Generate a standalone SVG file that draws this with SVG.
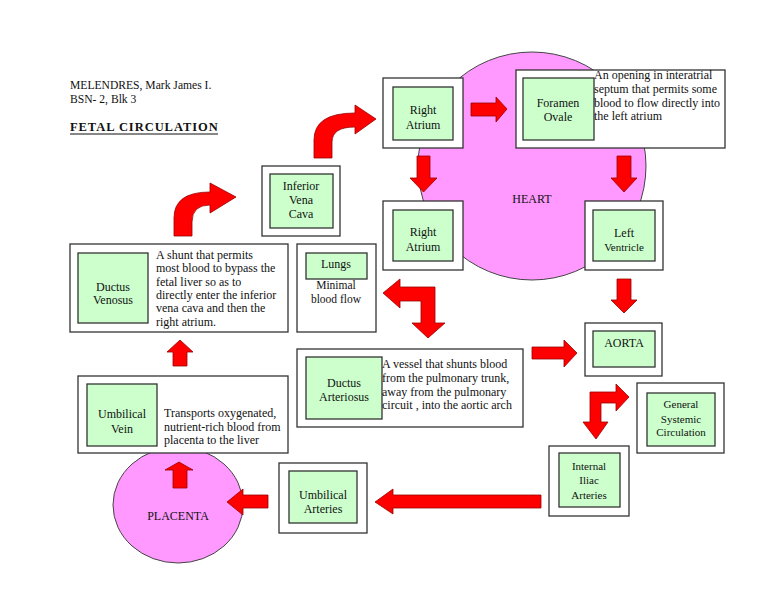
<svg xmlns="http://www.w3.org/2000/svg" width="768" height="594" viewBox="0 0 768 594">
<style>
text{font-family:"Liberation Serif","Times New Roman",serif;font-size:12px;fill:#111}
.c{text-anchor:middle}
.sm{font-size:11px}
.outer{fill:#fff;stroke:#333;stroke-width:1.3}
.inner{fill:#ccffcc;stroke:#333;stroke-width:1.3}
.organ{fill:#ff99ff;stroke:#444;stroke-width:1}
.arr{fill:#ff0000;stroke:#990000;stroke-width:0.8;stroke-linejoin:miter}
</style>
<rect width="768" height="594" fill="#fff"/>
<g id="header">
<text x="70" y="89" style="font-size:11.6px">MELENDRES, Mark James I.</text>
<text x="70" y="103" style="font-size:11.6px">BSN- 2, Blk 3</text>
<text x="70" y="131" style="font-weight:bold;font-size:12.5px;letter-spacing:0.95px">FETAL CIRCULATION</text>
<line x1="70" y1="134" x2="218" y2="134" stroke="#111" stroke-width="1.2"/>
</g>
<g id="heart">
<ellipse class="organ" cx="532" cy="166" rx="114" ry="114"/>
<text class="c" x="532" y="203">HEART</text>
</g>
<g id="placenta">
<ellipse class="organ" cx="178" cy="505" rx="65" ry="58"/>
<text class="c" x="178" y="520">PLACENTA</text>
</g>
<g id="right-atrium-1">
<rect class="outer" x="383" y="78" width="80" height="70"/>
<rect class="inner" x="393" y="87" width="60" height="53"/>
<text class="c" x="423" y="114">Right</text>
<text class="c" x="423" y="129">Atrium</text>
</g>
<g id="foramen-ovale">
<rect class="outer" x="516" y="70" width="209" height="78"/>
<rect class="inner" x="523" y="78" width="71" height="62"/>
<text class="c" x="558" y="107">Foramen</text>
<text class="c" x="558" y="121">Ovale</text>
<text x="594" y="79">An opening in interatrial</text>
<text x="594" y="93">septum that permits some</text>
<text x="594" y="107">blood to flow directly into</text>
<text x="594" y="120">the left atrium</text>
</g>
<g id="right-atrium-2">
<rect class="outer" x="383" y="201" width="80" height="69"/>
<rect class="inner" x="393" y="210" width="60" height="51"/>
<text class="c" x="423" y="236">Right</text>
<text class="c" x="423" y="251">Atrium</text>
</g>
<g id="left-ventricle">
<rect class="outer" x="585" y="201" width="78" height="69"/>
<rect class="inner" x="593" y="210" width="62" height="51"/>
<text class="c" x="624" y="237">Left</text>
<text class="c sm" x="624" y="251">Ventricle</text>
</g>
<g id="inferior-vena-cava">
<rect class="outer" x="262" y="166" width="78" height="70"/>
<rect class="inner" x="270" y="174" width="63" height="54"/>
<text class="c" x="301" y="190">Inferior</text>
<text class="c" x="301" y="204">Vena</text>
<text class="c" x="301" y="218">Cava</text>
</g>
<g id="ductus-venosus">
<rect class="outer" x="70" y="244" width="218" height="88"/>
<rect class="inner" x="78" y="253" width="70" height="70"/>
<text class="c" x="113" y="291">Ductus</text>
<text class="c" x="113" y="304">Venosus</text>
<text x="156" y="259">A shunt that permits</text>
<text x="156" y="272">most blood to bypass the</text>
<text x="156" y="286">fetal liver so as to</text>
<text x="156" y="299">directly enter the inferior</text>
<text x="156" y="312">vena cava and then the</text>
<text x="156" y="326">right atrium.</text>
</g>
<g id="lungs">
<rect class="outer" x="297" y="244" width="79" height="88"/>
<rect class="inner" x="306" y="253" width="61" height="26"/>
<text class="c" x="336" y="268">Lungs</text>
<text class="c" x="336" y="289" style="font-size:11.5px">Minimal</text>
<text class="c" x="336" y="302.5" style="font-size:11.5px">blood flow</text>
</g>
<g id="ductus-arteriosus">
<rect class="outer" x="297" y="349" width="226" height="78"/>
<rect class="inner" x="306" y="357" width="76" height="62"/>
<text class="c" x="344" y="387">Ductus</text>
<text class="c" x="344" y="401">Arteriosus</text>
<text x="382" y="368">A vessel that shunts blood</text>
<text x="382" y="382">from the pulmonary trunk,</text>
<text x="382" y="396">away from the pulmonary</text>
<text x="382" y="409">circuit , into the aortic arch</text>
</g>
<g id="aorta">
<rect class="outer" x="585" y="323" width="77" height="53"/>
<rect class="inner" x="593" y="331" width="62" height="36"/>
<text class="c" x="624" y="347">AORTA</text>
</g>
<g id="general-systemic-circulation">
<rect class="outer" x="637" y="383" width="87" height="70"/>
<rect class="inner" x="647" y="393" width="68" height="53"/>
<text class="c sm" x="681" y="408">General</text>
<text class="c sm" x="681" y="423">Systemic</text>
<text class="c sm" x="681" y="436">Circulation</text>
</g>
<g id="internal-iliac-arteries">
<rect class="outer" x="549" y="446" width="80" height="70"/>
<rect class="inner" x="559" y="453" width="61" height="54"/>
<text class="c sm" x="589" y="470">Internal</text>
<text class="c sm" x="589" y="484">Iliac</text>
<text class="c sm" x="589" y="499">Arteries</text>
</g>
<g id="umbilical-arteries">
<rect class="outer" x="279" y="463" width="88" height="70"/>
<rect class="inner" x="289" y="471" width="68" height="52"/>
<text class="c" x="323" y="499">Umbilical</text>
<text class="c" x="323" y="513">Arteries</text>
</g>
<g id="umbilical-vein">
<rect class="outer" x="78" y="376" width="210" height="77"/>
<rect class="inner" x="87" y="384" width="70" height="62"/>
<text class="c" x="122" y="418">Umbilical</text>
<text class="c" x="122" y="433">Vein</text>
<text x="164" y="417">Transports oxygenated,</text>
<text x="164" y="431">nutrient-rich blood from</text>
<text x="164" y="444">placenta to the liver</text>
</g>
<g id="connectors">
<path class="arr" d="M471,103 L496,103 L496,97 L507,109 L496,122 L496,116 L471,116 Z"/>
<path class="arr" d="M417,156 L430,156 L430,178 L437,178 L423.5,192 L410,178 L417,178 Z"/>
<path class="arr" d="M617,156 L631,156 L631,178 L637,178 L624,192 L611,178 L617,178 Z"/>
<path class="arr" d="M617,279 L631,279 L631,300 L637,300 L624,313 L611,300 L617,300 Z"/>
<path class="arr" d="M532,347 L564,347 L564,340 L577,353 L564,367 L564,359 L532,359 Z"/>
<path class="arr" d="M400,287 L435,287 L435,323 L445,323 L428,338 L412,323 L421,323 L421,301 L400,301 L400,308 L383,293 L400,279 Z"/>
<path class="arr" d="M616,384 L629,397 L616,411 L616,403 L601,403 L601,422 L608,422 L596,439 L583,422 L590,422 L590,392 L616,392 Z"/>
<path class="arr" d="M174,236 L174,218 Q174,192 210,192 L210,183 L236,197 L210,213 L210,205 Q192,205 192,222 L192,236 Z"/>
<path class="arr" d="M314,158 L314,140 Q314,113 355,113 L355,105 L376,119 L355,134 L355,127 Q332,127 332,142 L332,158 Z"/>
<path class="arr" d="M173,366 L187,366 L187,352 L193,352 L180,340 L167,352 L173,352 Z"/>
<path class="arr" d="M173,488 L187,488 L187,470 L193,470 L179,462 L165,470 L173,470 Z"/>
<path class="arr" d="M268,495 L243,495 L243,489 L227,502 L243,515 L243,508 L268,508 Z"/>
<path class="arr" d="M541,495 L393,495 L393,489 L375,502 L393,514 L393,508 L541,508 Z"/>
</g>
</svg>
